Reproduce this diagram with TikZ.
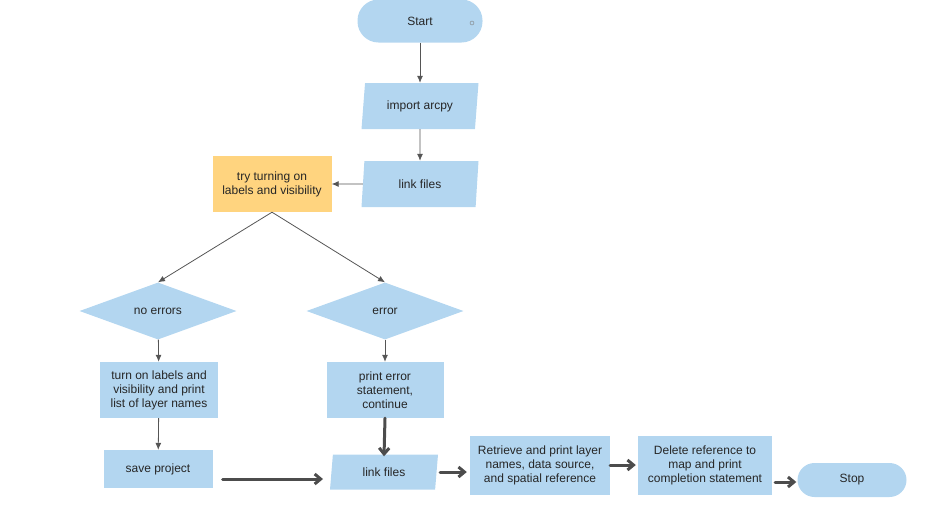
\documentclass[tikz,border=0pt]{standalone}
\usepackage{fontspec}
\setmainfont{Liberation Sans}
\usetikzlibrary{shapes.geometric,arrows.meta}
\definecolor{bl}{HTML}{B3D6F0}
\definecolor{og}{HTML}{FFD47F}
\definecolor{ln}{HTML}{555555}
\begin{document}
\begin{tikzpicture}[x=1pt,y=-1pt,
 every node/.style={font=\fontsize{12}{14}\selectfont, text=black!85, align=center, inner sep=1pt},
 box/.style={rectangle, fill=bl, minimum width=#1, minimum height=56},
 para/.style={trapezium, trapezium left angle=75, trapezium right angle=105, trapezium stretches body, fill=bl, minimum height=46, minimum width=#1},
 dia/.style={diamond, aspect=2.75, fill=bl, minimum width=157, minimum height=57, inner sep=0pt},
 term/.style={rectangle, rounded corners=#1, fill=bl},
 a/.style={draw=ln, -{Latex[length=7,width=6]}, line width=0.8},
 A/.style={draw=black!70, -{Straight Barb[length=6,width=10]}, line width=3, line cap=round}]
\useasboundingbox (0,0) rectangle (928,509);
\node[term=21, minimum width=125, minimum height=43] (start) at (420,21) {Start};
\draw[gray] (472,23) circle (2);
\node[para=117] (imp) at (420,106) {import arcpy};
\node[para=117] (lf1) at (420,184) {link files};
\node[rectangle, fill=og, minimum width=119, minimum height=56] (try) at (272,184) {try turning on\\labels and visibility};
\node[dia] (ne) at (158,311) {no errors};
\node[dia] (er) at (385,311) {error};
\node[box=118] (turn) at (159,390) {turn on labels and\\visibility and print\\list of layer names};
\node[box=117] (pe) at (385,390) {print error\\statement,\\continue};
\node[rectangle, fill=bl, minimum width=109, minimum height=38] (save) at (158,469) {save project};
\node[para=108, minimum height=35] (lf2) at (384,472) {link files};
\node[box=140, minimum height=59] (ret) at (540,465) {Retrieve and print layer\\names, data source,\\and spatial reference};
\node[box=134, minimum height=59] (del) at (705,465) {Delete reference to\\map and print\\completion statement};
\node[term=17, minimum width=109, minimum height=34] (stop) at (852,480) {Stop};
\draw[a] (start) -- (imp);
\draw[a] (imp) -- (lf1);
\draw[a] (lf1) -- (try);
\draw[a] (try.south) -- (ne.north);
\draw[a] (try.south) -- (er.north);
\draw[a] (ne) -- (turn);
\draw[a] (er) -- (pe);
\draw[a] (turn) -- (save);
\draw[A] (pe.south) -- ([yshift=-2]lf2.north);
\draw[A] ([xshift=10]save.east |- 0,479) -- (323,479);
\draw[A] (440,472) -- ([xshift=-3]ret.west |- 0,472);
\draw[A] (ret.east) -- ([xshift=-2]del.west);
\draw[A] ([xshift=3]del.east |- 0,482) -- ([xshift=-1]stop.west |- 0,482);
\end{tikzpicture}
\end{document}
